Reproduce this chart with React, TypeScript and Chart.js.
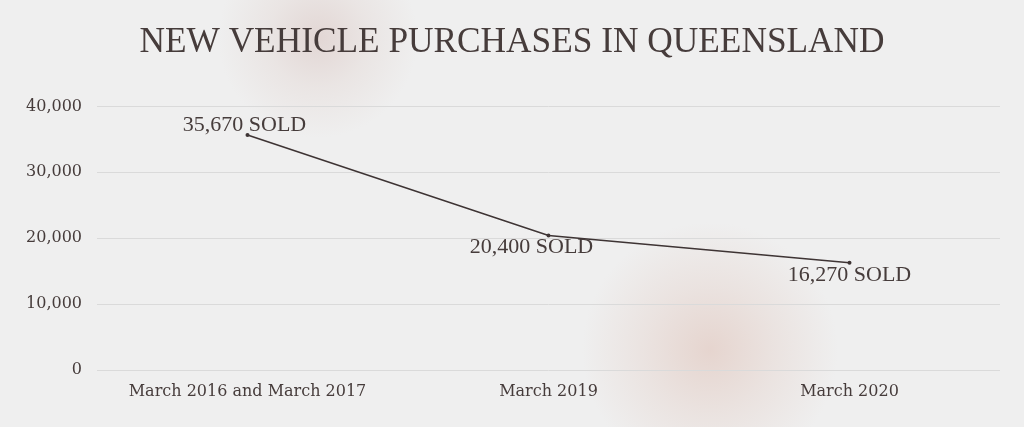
import Chart from 'chart.js/auto';
import { useEffect, useRef } from 'react';

const categories = ['March 2016 and March 2017', 'March 2019', 'March 2020'];
const sold = [35670, 20400, 16270];
const labelSide = ['above', 'below', 'below'];
const labelShift = [-3, -17, 0];
const yTicks = [0, 10000, 20000, 30000, 40000];

const ink = '#463c3b';

export default function App() {
  const canvasRef = useRef<HTMLCanvasElement | null>(null);

  useEffect(() => {
    const chart = new Chart(canvasRef.current!, {
      type: 'line',
      data: {
        labels: categories,
        datasets: [
          {
            data: sold,
            borderColor: '#3e3434',
            borderWidth: 1.6,
            pointRadius: 2,
            pointBackgroundColor: '#3e3434',
            pointBorderWidth: 0,
            tension: 0,
          },
        ],
      },
      options: {
        animation: false,
        responsive: false,
        layout: { padding: 0 },
        plugins: {
          legend: { display: false },
          tooltip: { enabled: false },
          title: {
            display: true,
            text: 'NEW VEHICLE PURCHASES IN QUEENSLAND',
            color: ink,
            font: { family: '"Liberation Serif", serif', size: 35.3, weight: 'normal' },
            padding: { top: 22, bottom: 42 },
          },
        },
        scales: {
          x: {
            offset: true,
            grid: { display: false },
            border: { display: false },
            ticks: {
              color: ink,
              padding: 4,
              font: { family: '"DejaVu Serif", serif', size: 16 },
            },
            afterFit(scale) {
              scale.height = 57;
            },
          },
          y: {
            min: 0,
            max: 40000,
            border: { display: false },
            grid: { color: '#dadada', lineWidth: 1, drawTicks: false },
            afterBuildTicks(scale) {
              scale.ticks = yTicks.map((value) => ({ value }));
            },
            ticks: {
              color: ink,
              padding: 15,
              font: { family: '"DejaVu Serif", serif', size: 16 },
              callback: (v) => Number(v).toLocaleString('en-US'),
            },
            afterFit(scale) {
              scale.width = 97;
            },
          },
          // empty right gutter so the title stays centred on the canvas
          yRight: {
            position: 'right',
            grid: { display: false },
            border: { display: false },
            ticks: { display: false },
            afterFit(scale) {
              scale.width = 24;
            },
          },
        },
      },
      plugins: [
        {
          id: 'soldLabels',
          afterDatasetsDraw(c) {
            const ctx = c.ctx;
            const meta = c.getDatasetMeta(0);
            ctx.save();
            ctx.fillStyle = ink;
            ctx.font = '22px "Liberation Serif", serif';
            ctx.textAlign = 'center';
            meta.data.forEach((pt, i) => {
              const text = `${sold[i].toLocaleString('en-US')} SOLD`;
              ctx.textBaseline = labelSide[i] === 'above' ? 'bottom' : 'top';
              ctx.fillText(text, pt.x + labelShift[i], pt.y + 1);
            });
            ctx.restore();
          },
        },
      ],
    });
    return () => chart.destroy();
  }, []);

  return (
    <div
      style={{
        position: 'fixed',
        inset: 0,
        width: 1024,
        height: 427,
        background:
          'radial-gradient(circle at 318px 38px, rgba(222,206,203,0.75) 0px, rgba(228,217,214,0.45) 50px, rgba(239,239,239,0) 100px), radial-gradient(circle at 710px 350px, rgba(228,208,201,0.85) 0px, rgba(231,217,212,0.55) 65px, rgba(239,239,239,0) 128px), #efefef',
      }}
    >
      <canvas ref={canvasRef} width={1024} height={427} />
    </div>
  );
}
